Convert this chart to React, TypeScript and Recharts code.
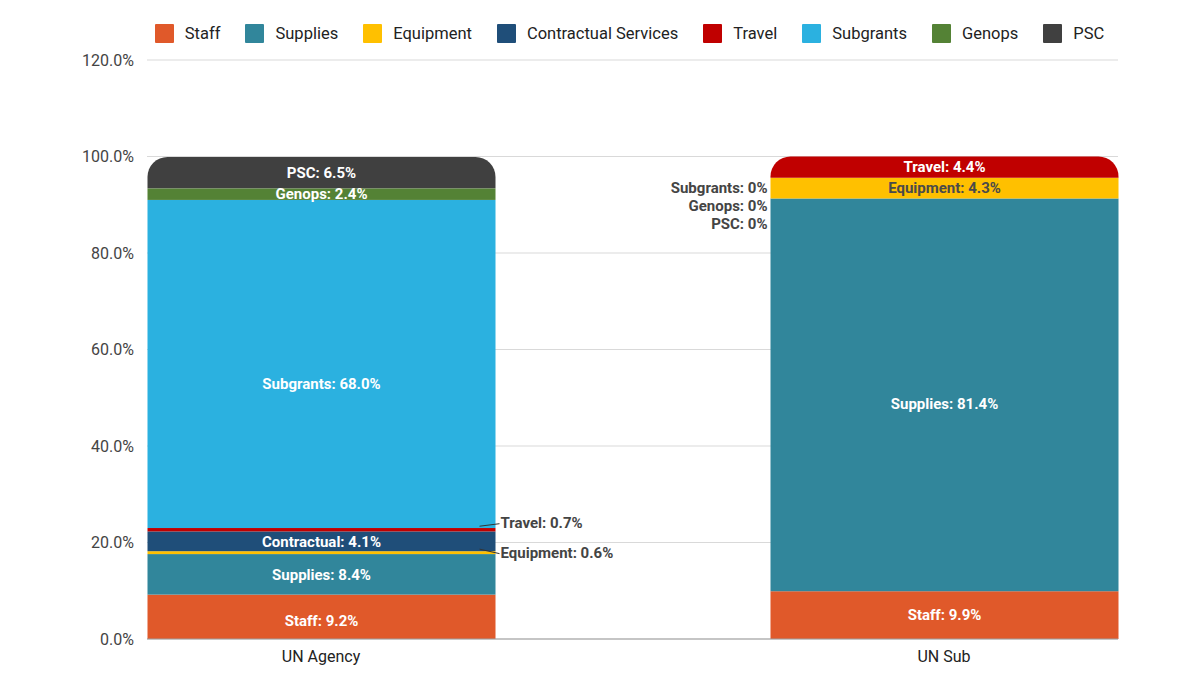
import React from 'react';
import { BarChart, Bar, XAxis, YAxis, CartesianGrid, Legend, LabelList } from 'recharts';

const categories = ['UN Agency', 'UN Sub'];
const staff = [9.2, 9.9];
const supplies = [8.4, 81.4];
const equipment = [0.6, 4.3];
const contractual: (number | null)[] = [4.1, null];
const travel = [0.7, 4.4];
const subgrants = [68.0, 0];
const genops = [2.4, 0];
const psc = [6.5, 0];
const yTicks = [0, 20, 40, 60, 80, 100, 120];

const seriesNames = ['Staff', 'Supplies', 'Equipment', 'Contractual Services', 'Travel', 'Subgrants', 'Genops', 'PSC'];
const labelNames = ['Staff', 'Supplies', 'Equipment', 'Contractual', 'Travel', 'Subgrants', 'Genops', 'PSC'];
const seriesValues = [staff, supplies, equipment, contractual, travel, subgrants, genops, psc];
const colors = ['#E0592A', '#31869B', '#FFC000', '#1F4E79', '#C00000', '#2BB1E0', '#548235', '#404040'];

const keys = seriesNames.map((_, i) => 's' + i);

const data = categories.map((name, ci) => {
  const row: any = { name };
  seriesValues.forEach((vals, si) => {
    row[keys[si]] = vals[ci];
  });
  return row;
});

// topmost non-zero segment per category (gets rounded top corners)
const topSeries = categories.map((_, ci) => {
  let top = -1;
  seriesValues.forEach((vals, si) => {
    const v = vals[ci];
    if (v != null && v > 0) top = si;
  });
  return top;
});

// small style tweaks for label placement
const labelShift: Record<string, number> = { '5-0': 20, '1-1': 9, '0-0': 4 };
const zeroOffset: Record<number, number> = { 5: 31.5, 6: 49.5, 7: 67.5 };
const smallDy: Record<number, number> = { 4: -7, 2: 0 };
const LABEL_FS = 15;

const fmt = (v: number) => (v === 0 ? '0%' : v.toFixed(1) + '%');

const makeShape = (si: number) => (props: any) => {
  const { x, y, width, height, fill } = props;
  if (!height || height <= 0 || !width) return null;
  const ci = props.index != null ? props.index : categories.indexOf(props.payload?.name);
  if (topSeries[ci] === si) {
    const r = Math.min(20, width / 2, height);
    const d = `M${x},${y + height} L${x},${y + r} A${r},${r} 0 0 1 ${x + r},${y} L${x + width - r},${y} A${r},${r} 0 0 1 ${x + width},${y + r} L${x + width},${y + height} Z`;
    return <path d={d} fill={fill} />;
  }
  return <rect x={x} y={y} width={width} height={height} fill={fill} />;
};

const makeLabel = (si: number) => (p: any) => {
  const vb = p.viewBox || {};
  const x = p.x != null ? p.x : vb.x;
  const y = p.y != null ? p.y : vb.y;
  const width = p.width != null ? p.width : vb.width;
  const height = p.height != null ? p.height : vb.height;
  const value = p.value;
  const ci = p.index;
  if (value == null || x == null) return null;
  const text = `${labelNames[si]}: ${fmt(value)}`;
  if (value === 0) {
    return (
      <text x={x - 3} y={y + (zeroOffset[si] || 0)} dy="0.35em" textAnchor="end" fill="#444" fontSize={LABEL_FS} fontWeight={700} fontFamily="Roboto">
        {text}
      </text>
    );
  }
  const sy = y + height / 2;
  if (value < 1) {
    const rx = x + width;
    const dy = smallDy[si] || 0;
    return (
      <g>
        <line x1={rx - 16} y1={sy - 3.5} x2={rx + 4} y2={sy + dy + 1} stroke="#333" strokeWidth={1} />
        <text x={rx + 5} y={sy + dy} dy="0.35em" textAnchor="start" fill="#444" fontSize={LABEL_FS} fontWeight={700} fontFamily="Roboto">
          {text}
        </text>
      </g>
    );
  }
  const shift = labelShift[`${si}-${ci}`] || 0;
  return (
    <text x={x + width / 2} y={sy + shift} dy="0.35em" textAnchor="middle" fill={si === 2 ? '#4a4a4a' : '#fff'} fontSize={LABEL_FS} fontWeight={700} fontFamily="Roboto">
      {text}
    </text>
  );
};

const LegendContent = () => (
  <div style={{ height: 45, display: 'flex', justifyContent: 'center', alignItems: 'flex-start', fontFamily: 'Roboto' }}>
    {seriesNames.map((n, i) => (
      <div key={n} style={{ display: 'flex', alignItems: 'center', height: 37, marginRight: i < seriesNames.length - 1 ? 25 : 0 }}>
        <div style={{ width: 19, height: 19, background: colors[i], marginRight: 11, borderRadius: 1 }} />
        <span style={{ fontSize: 16.5, color: '#222' }}>{n}</span>
      </div>
    ))}
  </div>
);

export default function App() {
  return (
    <div style={{ position: 'absolute', left: 0, top: 0, width: 1200, height: 675, background: '#fff', fontFamily: 'Roboto' }}>
      <BarChart width={1200} height={675} data={data} margin={{ top: 15, right: 82, bottom: 6, left: 87 }}>
        <CartesianGrid vertical={false} stroke="#d9d9d9" />
        <Legend verticalAlign="top" content={<LegendContent />} wrapperStyle={{ left: 144, width: 971, top: 15 }} />
        <XAxis
          dataKey="name"
          padding={{ left: -137.5, right: -137.5 }}
          axisLine={{ stroke: '#9e9e9e' }}
          tickLine={false}
          tickSize={0}
          tickMargin={12}
          height={30}
          tick={{ fill: '#222', fontSize: 16, fontFamily: 'Roboto' }}
        />
        <YAxis
          domain={[0, 120]}
          ticks={yTicks}
          interval={0}
          width={60}
          axisLine={false}
          tickLine={false}
          tickSize={0}
          tickMargin={13}
          tickFormatter={(v: number) => v.toFixed(1) + '%'}
          tick={{ fill: '#444', fontSize: 16, fontFamily: 'Roboto' }}
        />
        {keys.map((k, si) => (
          <Bar key={k} dataKey={k} name={seriesNames[si]} stackId="a" fill={colors[si]} barSize={348} isAnimationActive={false} shape={makeShape(si)}>
            <LabelList dataKey={k} content={makeLabel(si)} />
          </Bar>
        ))}
      </BarChart>
    </div>
  );
}
